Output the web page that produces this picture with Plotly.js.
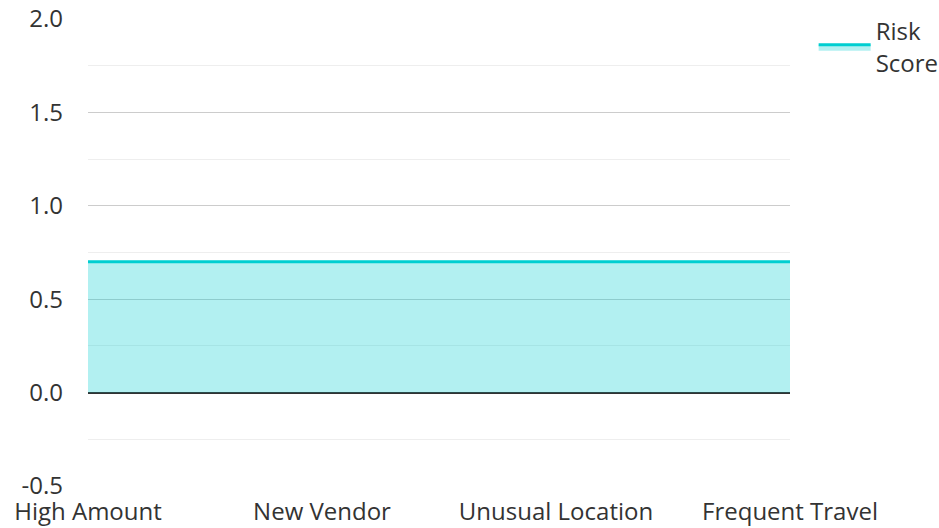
<!DOCTYPE html>
<html>
<head>
<meta charset="utf-8">
<script src="https://cdn.plot.ly/plotly-3.0.1.min.js"></script>
<style>html,body{margin:0;padding:0;background:#fff}#chart{width:939px;height:528px}</style>
</head>
<body>
<div id="chart"></div>
<script>
const categories = ["High Amount", "New Vendor", "Unusual Location", "Frequent Travel"];
const riskScores = [0.7, 0.7, 0.7, 0.7];
const seriesName = "Risk<br>Score";
const yTickVals = [-0.5, 0.0, 0.5, 1.0, 1.5, 2.0];
const yTickText = ["-0.5", "0.0", "0.5", "1.0", "1.5", "2.0"];

const trace = {
  x: categories,
  y: riskScores,
  type: "scatter",
  mode: "lines",
  name: seriesName,
  fill: "tozeroy",
  fillcolor: "rgba(0,206,209,0.3)",
  line: {color: "#00CED1", width: 3},
  showlegend: true
};

const layout = {
  width: 939, height: 528,
  margin: {l: 88, r: 149, t: 19, b: 42},
  paper_bgcolor: "#fff", plot_bgcolor: "#fff",
  font: {family: "Open Sans, sans-serif", size: 24, color: "#333"},
  showlegend: true,
  legend: {xref: "container", yref: "container", x: 0.8665, xanchor: "left",
           y: 0.983, yanchor: "top", itemwidth: 52,
           font: {size: 24, color: "#333"}},
  xaxis: {
    type: "category", range: [0, 3], showgrid: false, zeroline: false,
    showline: false, ticks: "", automargin: false, ticklabelstandoff: 9,
    tickfont: {size: 24, color: "#333"}
  },
  yaxis: {
    range: [-0.5, 2.0], tickvals: yTickVals, ticktext: yTickText,
    gridcolor: "#ccc", gridwidth: 1,
    zeroline: true, zerolinecolor: "#333", zerolinewidth: 2,
    showline: false, ticks: "", automargin: false, ticklabelstandoff: 24,
    tickfont: {size: 24, color: "#333"},
    minor: {dtick: 0.25, tick0: 0, showgrid: true, gridcolor: "#eee", gridwidth: 1}
  }
};

Plotly.newPlot("chart", [trace], layout, {displayModeBar: false});
</script>
</body>
</html>
